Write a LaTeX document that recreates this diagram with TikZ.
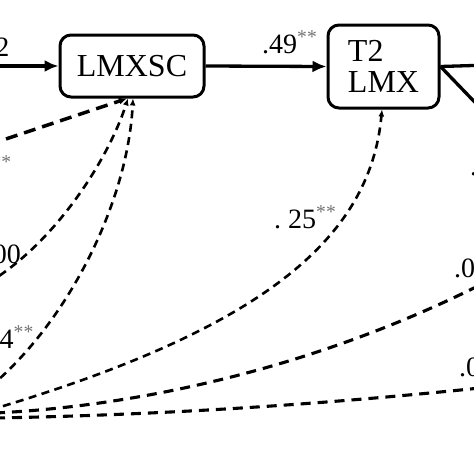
\documentclass[tikz,border=0pt]{standalone}
\usepackage{fontspec}
\setmainfont{Liberation Serif}
\usetikzlibrary{arrows.meta}
\begin{document}
\begin{tikzpicture}[x=1pt,y=-1pt,
  box/.style={draw,line width=3pt,rounded corners=11pt,inner sep=0pt,
    font=\fontsize{32}{31}\selectfont,align=left},
  solidarrow/.style={line width=3.3pt,-{Latex[length=14pt,width=12pt]}},
  solidline/.style={line width=3.3pt},
  heavydash/.style={line width=3.5pt,dash pattern=on 12pt off 7pt,-{Latex[length=8pt,width=7pt]}},
  thindash/.style={line width=2.6pt,dash pattern=on 8pt off 5.5pt,-{Latex[length=7pt,width=6pt]}},
  longdash/.style={line width=3.1pt,dash pattern=on 10pt off 7pt},
  lbl/.style={font=\fontsize{28}{30}\selectfont,inner sep=0pt},
  stars/.style={text=black!55}
]
\clip (0,0) rectangle (474,474);
\fill[white] (0,0) rectangle (474,474);

% boxes
\node[box,minimum width=144pt,minimum height=62pt,align=center] (lmxsc) at (132,66) {LMXSC};
\node[box,minimum width=111pt,minimum height=83pt] (t2) at (383.5,66.5) {T2\\LMX};

% off-picture ends
\coordinate (inL) at (-10,66);
\coordinate (outR1) at (490,65);
\coordinate (outR2) at (490,118);
\coordinate (hd) at (-30,151);
\coordinate (srcA) at (-12,283);
\coordinate (srcB) at (-10,387);
\coordinate (srcC) at (-10,410);
\coordinate (srcD) at (-5,413);
\coordinate (srcE) at (-5,418);
\coordinate (endD) at (480,285);
\coordinate (endE) at (480,388);

% solid paths
\draw[solidarrow] (inL) -- (lmxsc.west);
\draw[solidarrow] (lmxsc.east) -- (t2.west);
\draw[solidline] (t2.east) -- (outR1);
\draw[solidline] (t2.east) -- (outR2);

% dashed paths into LMXSC
\draw[heavydash] (hd) -- ([xshift=-5pt]lmxsc.south);
\draw[thindash] (srcA) .. controls (55,243) and (108,160) .. ([xshift=-4pt]lmxsc.south);
\draw[thindash] (srcB) .. controls (70,320) and (128,200) .. ([xshift=1pt]lmxsc.south);

% dashed path into T2 LMX
\draw[thindash] (srcC) .. controls (260,330) and (370,240) .. ([xshift=-1.5pt]t2.south);

% dashed paths leaving to the right
\draw[longdash] (srcD) .. controls (158,405) and (330,360) .. (endD);
\draw[longdash] (srcE) .. controls (158,415) and (316,405) .. (endE);

% labels
\node[lbl,anchor=base east] (la) at (9.5,56) {2};
\node[lbl,anchor=base west] (lb) at (262,53) {.49\textsuperscript{\color{black!55}**}};
\node[lbl,anchor=base west] (lc) at (274,228) {.\ 25\textsuperscript{\color{black!55}**}};
\node[lbl,anchor=base east,stars] (ld) at (12,178) {\textsuperscript{**}};
\node[lbl,anchor=base east] (le) at (21,263) {00};
\node[lbl,anchor=base east] (lf) at (34,348) {4\textsuperscript{\color{black!55}**}};
\node[lbl,anchor=base west] (lg) at (454,277) {.0};
\node[lbl,anchor=base west] (lh) at (459,376) {.0};
\node[lbl,anchor=base west] (li) at (470,175) {.};
\end{tikzpicture}
\end{document}
